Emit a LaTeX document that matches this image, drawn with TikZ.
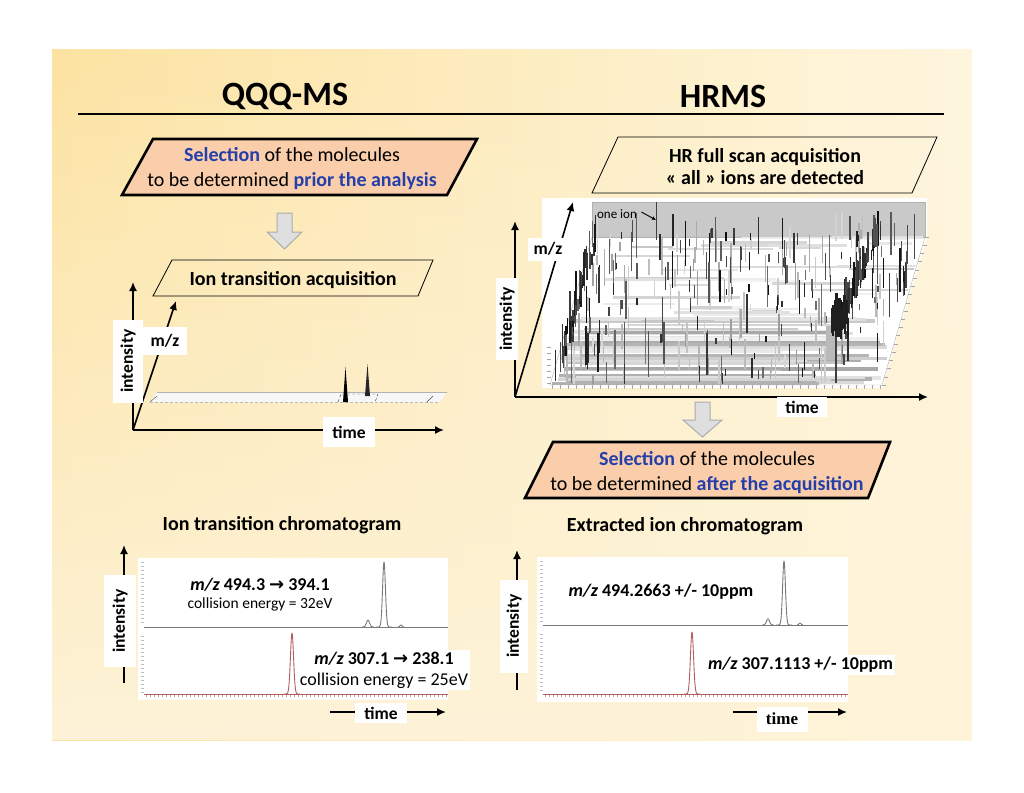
\documentclass[tikz,border=0pt]{standalone}
\usepackage{fontspec}
\setmainfont{Carlito}
\newfontfamily\arrowfont{DejaVu Sans}
\newfontfamily\timesfont{Liberation Serif}
\usetikzlibrary{arrows.meta,fadings}
\definecolor{selblue}{RGB}{36,62,170}
\definecolor{peach}{RGB}{250,206,170}
\definecolor{bgleft}{RGB}{252,227,162}
\definecolor{bgright}{RGB}{254,246,223}
\definecolor{bgbottom}{RGB}{254,243,216}
\definecolor{redtrace}{RGB}{175,95,95}
\definecolor{graytrace}{RGB}{120,120,120}

\begin{document}
\begin{tikzpicture}[x=1pt,y=-1pt,
  selbox/.style={draw=black,line width=2.6pt,fill=peach,line join=miter},
  acqbox/.style={draw=black,line width=0.8pt},
  boxtext/.style={align=center,font=\fontsize{20}{25}\selectfont},
  acqtext/.style={align=center,font=\fontsize{20}{22}\selectfont\bfseries},
  axlabel/.style={fill=white,inner sep=2pt,font=\fontsize{17.5}{20}\selectfont\bfseries},
  axis/.style={line width=1.6pt,-{Latex[length=9pt,width=8pt]}},
  blockarrow/.style={fill=gray!25,draw=gray!65,line width=1pt},
  chrotitle/.style={font=\fontsize{20}{22}\selectfont\bfseries}]

\useasboundingbox (0,0) rectangle (1024,792);
\fill[white] (0,0) rectangle (1024,792);
\shade[left color=bgleft,right color=bgright] (52,50) rectangle (972,740);
\fill[bgbottom,path fading=north] (52,50) rectangle (972,740);

\node (qqq)  at (285,96) [] {\fontsize{34}{40}\selectfont\bfseries QQQ-MS};
\node (hrms) at (723,96) [] {\fontsize{34}{40}\selectfont\bfseries HRMS};
\draw[line width=2pt] (78,114) -- (944,114);

% QQQ-MS side
\draw[selbox] (153,139) -- (477,139) -- (447,195) -- (122,195) -- cycle;
\node (selL) at (292,169) [boxtext] {\textcolor{selblue}{\bfseries Selection} of the molecules\\to be determined \textcolor{selblue}{\bfseries prior the analysis}};
\draw[blockarrow] (277,213) -- (292,213) -- (292,232) -- (302,232) -- (284.5,249) -- (267,232) -- (277,232) -- cycle;
\draw[acqbox] (172,260) -- (433,260) -- (418,296) -- (153,296) -- cycle;
\node (acqL) at (293,280) [acqtext] {Ion transition acquisition};

\fill[gray!6] (150,402) -- (440,402) -- (447,392) -- (157,392) -- cycle;
\draw[gray!60] (157,392) -- (447,392);
\draw[gray!55,densely dashed] (150,402) -- (440,402);
\draw[black!70] (150,402) -- (157,396);
\draw[black!70] (427,402) -- (433,396);
\draw[black!75,densely dashed] (338,402) -- (341,394) -- (378,394) -- (375,402);
\fill[black] (343,402) -- (345.5,367) -- (348,402) -- cycle;
\fill[black!85] (365,396) -- (367.5,364) -- (370,396) -- cycle;

\coordinate (oL) at (133,430);
\coordinate (intL) at (133,282);
\coordinate (mzL) at (176,301);
\coordinate (timeL) at (444,430);
\draw[axis] (oL) -- (intL);
\draw[axis] (oL) -- (mzL);
\draw[axis] (oL) -- (timeL);
\node (intensL) at (128,361) [axlabel,rotate=90,minimum width=83,minimum height=30] {intensity};
\node (mzlabL) at (165,341) [axlabel,minimum width=44,minimum height=28] {m/z};
\node (timlabL) at (349,432) [axlabel,minimum width=52,minimum height=30] {time};

% HRMS side
\draw[acqbox] (618,137) -- (937,137) -- (912,193) -- (592,193) -- cycle;
\node (acqR) at (765,167) [acqtext,font=\fontsize{20}{22}\selectfont\bfseries] {HR full scan acquisition\\« all » ions are detected};

\fill[white] (542,198) -- (927,198) -- (927,237) -- (882,388) -- (542,388) -- cycle;
\fill[gray!42] (592,202) rectangle (925,237);
\draw[gray!60,line width=0.6pt] (592,202) rectangle (925,237);
\pgfmathsetseed{42}
\foreach \k in {1,...,40} {
  \pgfmathsetmacro{\r}{0.45*rnd}
  \pgfmathsetmacro{\yb}{385-148*\r}
  \pgfmathsetmacro{\xa}{551+42*\r+25*rnd}
  \pgfmathsetmacro{\xe}{881+42*\r-110*rnd}
  \pgfmathtruncatemacro{\sh}{6+30*rnd}
  \draw[black!\sh,line width=3.5pt] (\xa,\yb) -- (\xe,\yb);
}
\foreach \k in {1,...,35} {
  \pgfmathsetmacro{\r}{0.4+0.6*rnd}
  \pgfmathsetmacro{\yb}{385-148*\r}
  \pgfmathsetmacro{\xa}{551+42*\r+280*rnd}
  \pgfmathsetmacro{\xe}{min(\xa+20+110*rnd,881+42*\r)}
  \pgfmathtruncatemacro{\sh}{5+18*rnd}
  \draw[black!\sh,line width=2.5pt] (\xa,\yb) -- (\xe,\yb);
}
\draw[gray!60] (550,385) -- (882,385) -- (925,237) -- (592,237) -- cycle;
\foreach \k in {1,...,120} {
  \pgfmathsetmacro{\r}{rnd}
  \pgfmathsetmacro{\yb}{385-148*\r}
  \pgfmathsetmacro{\xs}{553+42*\r+326*rnd}
  \pgfmathsetmacro{\h}{8+30*rnd}
  \pgfmathtruncatemacro{\sh}{15+25*rnd}
  \draw[black!\sh,line width=1.5pt] (\xs,\yb) -- (\xs,\yb-\h);
}
\foreach \k in {1,...,170} {
  \pgfmathsetmacro{\r}{rnd}
  \pgfmathsetmacro{\u}{rnd}
  \pgfmathsetmacro{\yb}{385-148*\r}
  \pgfmathsetmacro{\xs}{553+42*\r+326*rnd}
  \pgfmathsetmacro{\h}{6+40*\u*\u}
  \pgfmathtruncatemacro{\sh}{55+40*rnd}
  \draw[black!\sh,line width=1.3pt] (\xs,\yb) -- (\xs,\yb-\h);
}
\foreach \k in {1,...,50} {
  \pgfmathsetmacro{\r}{rnd}
  \pgfmathsetmacro{\yb}{385-148*\r}
  \pgfmathsetmacro{\xs}{551+42*\r+8*rnd}
  \pgfmathsetmacro{\h}{8+26*rnd}
  \pgfmathtruncatemacro{\sh}{60+35*rnd}
  \draw[black!\sh,line width=1.4pt] (\xs,\yb) -- (\xs,\yb-\h);
}
\fill[gray!55] (826,326) rectangle (836,360);
\draw[black!75,line width=1.5pt] (836,320) -- (836,383);
\foreach \k in {1,...,60} {
  \pgfmathsetmacro{\t}{rnd}
  \pgfmathsetmacro{\xs}{834+42*\t+6*rnd}
  \pgfmathsetmacro{\yb}{338-100*\t}
  \pgfmathsetmacro{\h}{8+28*rnd}
  \pgfmathtruncatemacro{\sh}{65+30*rnd}
  \draw[black!\sh,line width=1.5pt] (\xs,\yb) -- (\xs,\yb-\h);
}
\foreach \k in {1,...,40} {
  \pgfmathsetmacro{\xs}{832+16*rnd}
  \pgfmathsetmacro{\yb}{312+28*rnd}
  \pgfmathsetmacro{\h}{8+14*rnd}
  \draw[black!88,line width=2.5pt] (\xs,\yb) -- (\xs,\yb-\h);
}
\foreach \x in {552,560,...,880} \draw[gray!70,line width=0.4pt] (\x,385) -- (\x,389);
\foreach \t in {0,...,18} \draw[gray!70,line width=0.4pt] ({882+43*\t/18},{385-148*\t/18}) -- ++(4,0);
\foreach \y in {347,353,...,383} \draw[gray!70,line width=0.4pt] (547,\y) -- (551,\y);
\draw[black!75,line width=1pt] (656,202) -- (656,240);
\node (oneion) at (617,214) [font=\fontsize{13}{15}\selectfont] {one ion};
\coordinate (ionpt) at (656,220);
\draw[line width=0.9pt,-{Latex[length=4pt,width=4pt]}] (oneion.east) ++(1,-2) -- (ionpt);

\coordinate (oR) at (515,397);
\coordinate (intR) at (515,221);
\coordinate (mzR) at (573,202);
\coordinate (timeR) at (928,397);
\draw[axis] (oR) -- (intR);
\draw[axis] (oR) -- (mzR);
\draw[axis] (oR) -- (timeR);
\node (intensR) at (507,319) [axlabel,rotate=90,minimum width=82,minimum height=22] {intensity};
\node (mzlabR) at (548,249) [axlabel,minimum width=41,minimum height=23] {m/z};
\node (timlabR) at (802,407) [axlabel,minimum width=50,minimum height=20] {time};

\draw[blockarrow] (695,402) -- (710,402) -- (710,420) -- (722,420) -- (702.5,437) -- (683,420) -- (695,420) -- cycle;
\draw[selbox] (553,442) -- (890,442) -- (868,498) -- (525,498) -- cycle;
\node (selR) at (707,473) [boxtext] {\textcolor{selblue}{\bfseries Selection} of the molecules\\to be determined \textcolor{selblue}{\bfseries after the acquisition}};

% chromatograms
\node (chroL) at (282,525) [chrotitle] {Ion transition chromatogram};
\node (chroR) at (685,526) [chrotitle] {Extracted ion chromatogram};

\fill[white] (138,558) rectangle (448,700);
\foreach \y in {562,566,...,624} \draw[gray!50,line width=0.4pt] (141,\y) -- (144,\y);
\foreach \y in {636,640,...,692} \draw[gray!50,line width=0.4pt] (141,\y) -- (144,\y);
\foreach \x in {146,150,...,446} \draw[redtrace!60,line width=0.3pt] (\x,694) -- (\x,697);
\draw[graytrace,line width=0.9pt] (144,627) -- (448,627);
\draw[graytrace,line width=0.9pt] plot[domain=362:374,samples=30] (\x,{627-7*exp(-((\x-368)/2.2)^2)});
\draw[graytrace,line width=0.9pt] plot[domain=376:392,samples=50] (\x,{627-65*exp(-((\x-384)/2)^2)});
\draw[graytrace,line width=0.9pt] plot[domain=398:404,samples=15] (\x,{627-2*exp(-((\x-401)/1.5)^2)});
\draw[redtrace,line width=0.9pt] (144,694) -- (448,694);
\draw[redtrace,line width=0.9pt] plot[domain=284:300,samples=50] (\x,{694-61*exp(-((\x-292)/2.2)^2)});

\coordinate (intBLa) at (124,683);
\coordinate (intBLb) at (124,545);
\draw[axis] (intBLa) -- (intBLb);
\node (intensBL) at (120,621) [axlabel,rotate=90,minimum width=92,minimum height=32] {intensity};
\coordinate (timBLa) at (330,712);
\coordinate (timBLb) at (446,712);
\draw[axis] (timBLa) -- (timBLb);
\node (timlabBL) at (381,713) [axlabel,minimum width=52,minimum height=20] {time};

\node (trA) at (260,585) [font=\fontsize{18}{20}\selectfont\bfseries] {\itshape m/z\upshape\ 494.3 {\arrowfont\bfseries\fontsize{18}{18}\selectfont →} 394.1};
\node (ceA) at (260,604) [font=\fontsize{15.5}{17}\selectfont] {collision energy = 32eV};
\node (trB) at (384,670) [fill=white,inner sep=2pt,align=center,font=\fontsize{18}{21}\selectfont] {{\bfseries\itshape m/z\upshape\ 307.1 {\arrowfont\bfseries\fontsize{18}{18}\selectfont →} 238.1}\\collision energy = 25eV};

\fill[white] (537,557) rectangle (848,702);
\foreach \y in {561,565,...,623} \draw[gray!50,line width=0.4pt] (540,\y) -- (543,\y);
\foreach \y in {634,638,...,692} \draw[gray!50,line width=0.4pt] (540,\y) -- (543,\y);
\foreach \x in {545,549,...,845} \draw[redtrace!60,line width=0.3pt] (\x,694) -- (\x,697);
\draw[graytrace,line width=0.9pt] (543,625) -- (848,625);
\draw[graytrace,line width=0.9pt] plot[domain=762:774,samples=30] (\x,{625-6*exp(-((\x-768)/2.2)^2)});
\draw[graytrace,line width=0.9pt] plot[domain=776:792,samples=50] (\x,{625-64*exp(-((\x-784)/2)^2)});
\draw[graytrace,line width=0.9pt] plot[domain=797:803,samples=15] (\x,{625-2*exp(-((\x-800)/1.5)^2)});
\draw[redtrace,line width=0.9pt] (543,694) -- (848,694);
\draw[redtrace,line width=0.9pt] plot[domain=684:700,samples=50] (\x,{694-62*exp(-((\x-692)/2.2)^2)});

\coordinate (intBRa) at (517,690);
\coordinate (intBRb) at (517,550);
\draw[axis] (intBRa) -- (intBRb);
\node (intensBR) at (514,626) [axlabel,rotate=90,minimum width=93,minimum height=28] {intensity};
\coordinate (timBRa) at (733,712);
\coordinate (timBRb) at (847,712);
\draw[axis] (timBRa) -- (timBRb);
\node (timlabBR) at (782,719) [axlabel,minimum width=51,minimum height=25,font=\timesfont\fontsize{17}{20}\selectfont\bfseries] {time};

\node (xicA) at (565,592) [anchor=west,font=\fontsize{18}{20}\selectfont\bfseries] {\itshape m/z\upshape\ 494.2663 +/- 10ppm};
\node (xicB) at (706,665) [anchor=west,fill=white,inner sep=2pt,font=\fontsize{18}{20}\selectfont\bfseries] {\itshape m/z\upshape\ 307.1113 +/- 10ppm};
\end{tikzpicture}
\end{document}
